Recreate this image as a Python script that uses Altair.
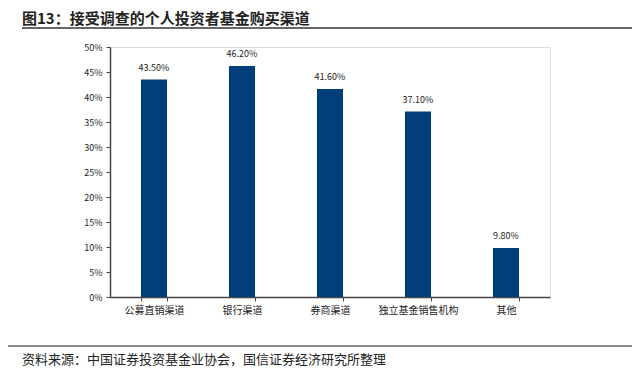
import altair as alt
import pandas as pd

categories = ["公募直销渠道", "银行渠道", "券商渠道", "独立基金销售机构", "其他"]
values = [43.5, 46.2, 41.6, 37.1, 9.8]
labels = ["43.50%", "46.20%", "41.60%", "37.10%", "9.80%"]
title_text = "图13：接受调查的个人投资者基金购买渠道"
source_text = "资料来源：中国证券投资基金业协会，国信证券经济研究所整理"

FONT = "Noto Sans CJK SC"
df = pd.DataFrame({"cat": categories, "val": values, "lab": labels})

x = alt.X("cat:N", sort=categories, title=None,
          scale=alt.Scale(paddingInner=0.7, paddingOuter=0.35),
          axis=alt.Axis(labelAngle=0, labelFontSize=10, labelColor="#222", labelFont=FONT,
                        tickBand="extent", tickSize=4, tickColor="#444",
                        domainColor="#444", domainWidth=1.5, labelPadding=4))
y = alt.Y("val:Q", title=None,
          scale=alt.Scale(domain=[0, 50], nice=False),
          axis=alt.Axis(values=[0, 5, 10, 15, 20, 25, 30, 35, 40, 45, 50],
                        labelExpr="datum.value + '%'",
                        labelFontSize=9, labelColor="#222", labelFont=FONT,
                        labelOverlap=False, labelFlush=False,
                        tickSize=4, tickColor="#444", domainColor="#444", domainWidth=1.5,
                        grid=False, labelPadding=4))

bars = alt.Chart(df).mark_bar(size=26, color="#003f7a").encode(x=x, y=y)
text = alt.Chart(df).mark_text(dy=-12, fontSize=9, font=FONT, color="#222").encode(
    x=x, y=y, text="lab:N")

deco = pd.DataFrame({"t": [title_text], "s": [source_text]})
title = alt.Chart(deco).mark_text(align="left", baseline="middle", fontSize=15,
                                  fontWeight="bold", font=FONT, color="#222").encode(
    x=alt.value(-88), y=alt.value(-28), text="t:N")
source = alt.Chart(deco).mark_text(align="left", baseline="middle", fontSize=13,
                                   font=FONT, color="#222").encode(
    x=alt.value(-88), y=alt.value(313), text="s:N")
line1 = alt.Chart(deco).mark_rule(color="#333", strokeWidth=1.5).encode(
    x=alt.value(-88), x2=alt.value(524), y=alt.value(-19))
line2 = alt.Chart(deco).mark_rule(color="#666", strokeWidth=1.5).encode(
    x=alt.value(-110), x2=alt.value(524), y=alt.value(299))

chart = alt.layer(bars, text, title, source, line1, line2).properties(
    width=440, height=250,
    autosize=alt.AutoSizeParams(type="none"),
    padding={"left": 102, "top": 39, "right": 82, "bottom": 79},
).configure_view(stroke=None).configure(background="white")

chart.save("out.html", embed_options={"renderer": "svg", "actions": False})
